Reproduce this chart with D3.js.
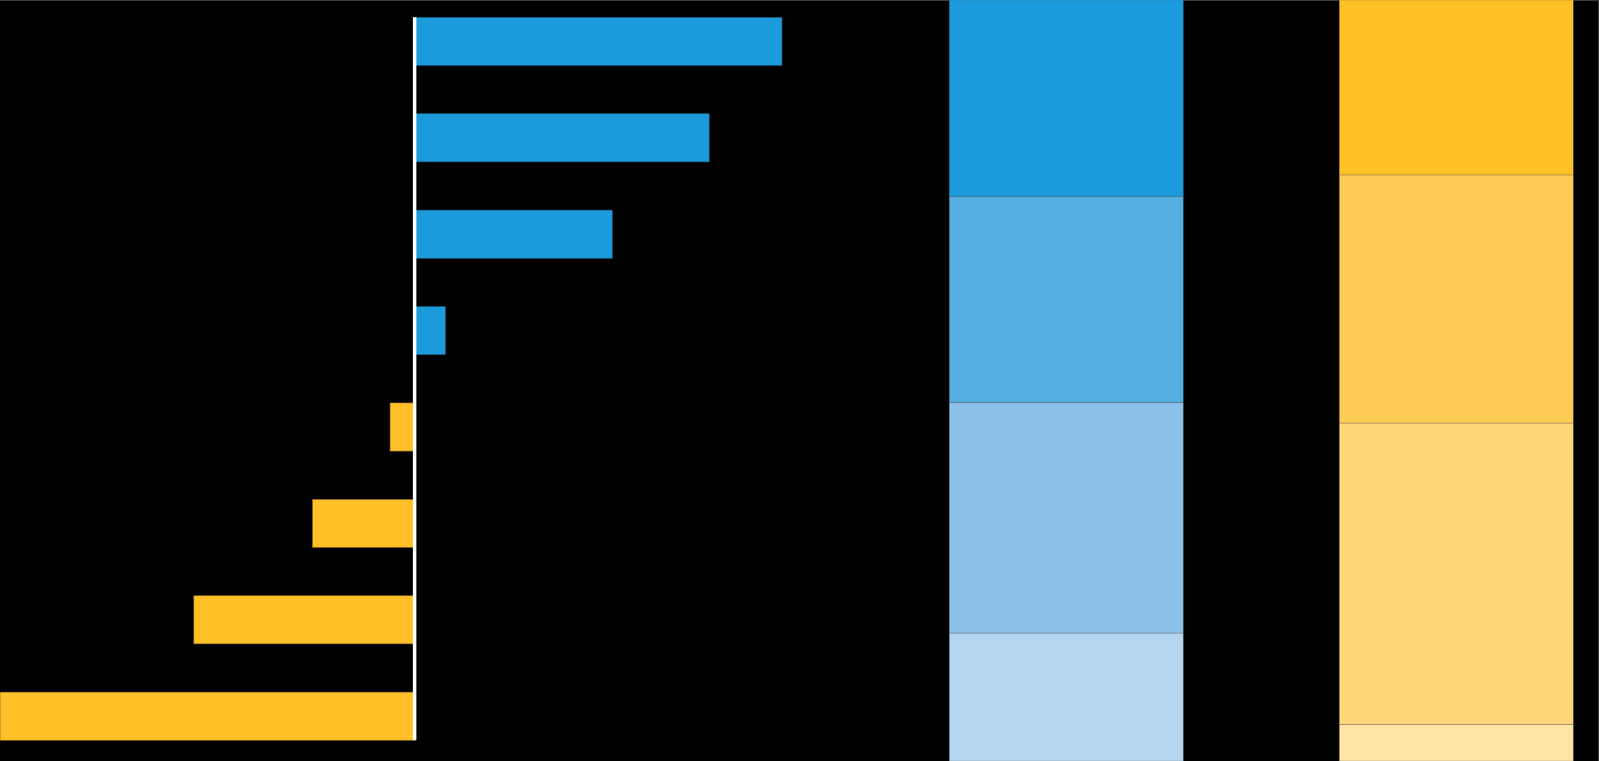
<!DOCTYPE html>
<html>
  <head>
    <meta charset="utf-8">
    <title>Diverging bars</title>
    <style>
      body {
        margin: 0;
        padding: 0;
        background: #000;
        overflow: hidden;
      }
    </style>
  </head>
  <body>
    <div id="chart"></div>

    <script src="https://cdnjs.cloudflare.com/ajax/libs/d3/7.8.5/d3.min.js"></script>
    <script>
      // Diverging bar data (positive = blue, negative = yellow)
      const categories = ["c1", "c2", "c3", "c4", "c5", "c6", "c7", "c8"];
      const values = [38.1, 30.55, 20.5, 3.2, -2.55, -10.6, -22.9, -43];

      // Stacked columns (shares, top to bottom)
      const columns = ["blue", "yellow"];
      const blueShares = [25.8, 27.1, 30.3, 16.8];
      const yellowShares = [23.0, 32.6, 39.6, 4.8];
      const blueShades = ["#1c9bdc", "#55aee2", "#8cc2ea", "#b5d6f0"];
      const yellowShades = ["#ffc028", "#fecb55", "#fed77b", "#ffe4a5"];

      const width = 1599, height = 761;

      const svg = d3.select('#chart')
                    .append('svg')
                    .attr('width', width)
                    .attr('height', height)
                    .style('display', 'block')
                    .style('background', '#000');

      // Frame lines (top and right), under the marks
      svg.append('path')
          .attr('d', `M0,0.5H${width - 0.5}V${height}`)
          .attr('fill', 'none')
          .attr('stroke', '#3c3c3c')
          .attr('stroke-width', 1);

      // Scales for the bars
      const xScale = d3.scaleLinear()
                        .domain([-43, 38.1])
                        .range([0, 782]);

      const yScale = d3.scaleBand()
                        .domain(categories)
                        .range([17.3, 740.3])
                        .paddingInner(0.5)
                        .paddingOuter(0);

      // Bars
      svg.append('g')
          .selectAll('rect')
          .data(values)
          .join('rect')
          .attr('x', d => xScale(Math.min(0, d)))
          .attr('y', (d, i) => yScale(categories[i]))
          .attr('width', d => Math.abs(xScale(d) - xScale(0)))
          .attr('height', yScale.bandwidth())
          .attr('fill', d => d >= 0 ? '#1c9bdc' : '#ffc028')
          .attr('stroke', d => d >= 0 ? '#10577c' : '#7a5a14')
          .attr('stroke-width', 0.6);

      // Zero line
      svg.append('line')
          .attr('x1', xScale(0))
          .attr('x2', xScale(0))
          .attr('y1', yScale.range()[0])
          .attr('y2', yScale.range()[1])
          .attr('stroke', '#fff')
          .attr('stroke-width', 3.5);

      // Stacked columns
      const colScale = d3.scaleBand()
                          .domain(columns)
                          .range([949.3, 1573.3])
                          .paddingInner(0.4)
                          .paddingOuter(0);

      const shareScale = d3.scaleLinear()
                            .domain([0, 100])
                            .range([0, height]);

      const stacks = [
        {key: "blue", shares: blueShares, shades: blueShades},
        {key: "yellow", shares: yellowShares, shades: yellowShades}
      ];

      stacks.forEach(s => {
        const cum = d3.cumsum(s.shares);
        svg.append('g')
            .selectAll('rect')
            .data(s.shares)
            .join('rect')
            .attr('x', colScale(s.key))
            .attr('y', (d, i) => shareScale(cum[i] - d))
            .attr('width', colScale.bandwidth())
            .attr('height', d => shareScale(d))
            .attr('fill', (d, i) => s.shades[i])
            .attr('stroke', 'rgba(90,90,90,0.45)')
            .attr('stroke-width', 0.6);
      });
    </script>
  </body>
</html>
